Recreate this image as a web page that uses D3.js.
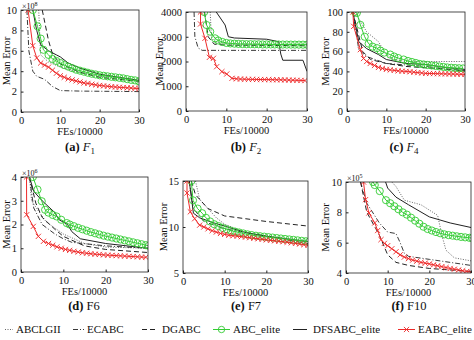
<!DOCTYPE html>
<html>
<head>
<meta charset="utf-8">
<script src="https://cdn.jsdelivr.net/npm/d3@7"></script>
<style>
  body { margin: 0; background: #fff; }
  svg, svg text { font-family: 'Liberation Serif', 'DejaVu Serif', serif !important; }
</style>
</head>
<body>
<script>
// methods, in legend order
const methods = ["ABCLGII", "ECABC", "DGABC", "ABC_elite", "DFSABC_elite", "EABC_elite"];

// F1 (x10^8)
const f1 = [
  [[4.5,10],[5,5.6],[7,4.9],[10,4.4],[15,3.85],[20,3.5],[25,3.3],[30,3.1]],
  [[1.5,10],[2,6],[3,4],[4,3.5],[6,3.2],[8,2.5],[10,2.1],[15,2.05],[30,2.0]],
  [[5.4,10],[7,7],[8,5.7],[10,4.7],[15,3.9],[20,3.4],[25,3.2],[30,3.0]],
  [[3,10],[4.2,8.4],[5,7.2],[5.7,6.1],[7,5.6],[8,5.2],[9,5.0],[10,4.8],[11,4.6],[12,4.45],[13,4.3],[14,4.15],[15,4.05],[16,3.95],[17,3.85],[18,3.75],[19,3.68],[20,3.6],[21,3.55],[22,3.5],[23,3.45],[24,3.4],[25,3.35],[26,3.3],[27,3.22],[28,3.15],[29,3.1],[30,3.0]],
  [[3,10],[4,8],[5,6.6],[7,6.0],[9,5.6],[10,5.4],[12,4.8],[15,4.3],[20,3.7],[25,3.4],[30,3.1]],
  [[1.8,10],[3,6.5],[4,5.3],[5,4.8],[6,4.6],[7,4.4],[8,4.1],[9,3.8],[10,3.55],[11,3.4],[12,3.25],[13,3.15],[14,3.05],[15,2.95],[16,2.85],[17,2.8],[18,2.72],[19,2.66],[20,2.6],[21,2.56],[22,2.52],[23,2.48],[24,2.45],[25,2.42],[26,2.4],[27,2.37],[28,2.35],[29,2.32],[30,2.3]]
];

// F2
const f2 = [
  [[6,4000],[6.3,3000],[7,2800],[10,2720],[20,2700],[30,2690]],
  [[2,4000],[2.2,3000],[3,2550],[4,2450],[30,2450]],
  [[4.6,4000],[5.5,3000],[7,2700],[10,2660],[30,2640]],
  [[4.5,4000],[5.1,3475],[6,3205],[7.2,2936],[8,2850],[9,2790],[10,2750],[11,2730],[12,2720],[13,2710],[14,2705],[15,2700],[16,2700],[17,2695],[18,2695],[19,2690],[20,2690],[21,2690],[22,2688],[23,2686],[24,2685],[25,2684],[26,2683],[27,2682],[28,2681],[29,2680],[30,2680]],
  [[7.5,4000],[9.7,3475],[10.5,3000],[12,2950],[20,2900],[23,2800],[23.5,2300],[24,2050],[29,2050],[30,1600]],
  [[3.6,4000],[3.6,3515],[4.7,2936],[5.8,2168],[6.8,2128],[7.6,1790],[8.9,1590],[10.1,1495],[11.4,1320],[12.5,1300],[13.5,1290],[14.5,1285],[15.5,1280],[16.5,1278],[17.5,1275],[18.5,1272],[19.5,1270],[20.5,1268],[21.5,1265],[22.5,1262],[23.5,1260],[24.5,1255],[25.5,1250],[26.5,1245],[27.5,1240],[28.5,1235],[29.5,1230]]
];

// F4
const f4 = [
  [[2,100],[5,80],[8,70],[10,57],[12,52],[15,50],[30,50]],
  [[1.5,100],[3,62],[5,55],[10,48],[20,45],[30,40]],
  [[1.5,100],[4,60],[6,52],[10,48],[15,45],[30,41]],
  [[2,100],[2.5,99],[3.4,87],[4.5,75],[5.5,68],[6.5,65],[7.6,63.5],[8.5,61],[9.5,59],[11,57],[12,55],[13,53.5],[14.4,52],[15.5,50.5],[16.5,49.5],[17.5,48.5],[18.5,47.5],[19.5,47],[20.5,46.5],[21.5,46],[22.5,45.5],[23.5,45],[24.5,44.5],[25.5,44],[26.5,43.7],[27.5,43.4],[28.5,43.2],[29.5,43]],
  [[1.5,100],[3,70],[5,63],[8,57],[10,52],[15,48],[20,47],[25,44],[30,42]],
  [[1.5,100],[1.7,85.5],[3.4,62],[4.2,53],[5,50],[5.9,48],[7,46],[8,44],[9,43],[10,42],[11,41.5],[12,41],[13,40.5],[14,40.2],[15,40],[16,39.6],[17,39.2],[18,38.8],[19,38.4],[20,38],[21,37.9],[22,37.8],[23,37.7],[24,37.6],[25,37.5],[26,37.4],[27,37.3],[28,37.2],[29,37.1],[30,37]]
];

// F6 (x10^6)
const f6 = [
  [[2,4],[2.5,3.0],[4,2.6],[6,2.1],[10,1.6],[15,1.2],[20,1.05],[30,1.0]],
  [[2,4],[3,2.7],[5,2.0],[8,1.6],[10,1.4],[12,1.25],[20,1.1],[30,1.0]],
  [[2,4],[3.5,2.9],[5,2.3],[8,1.8],[10,1.5],[15,1.1],[20,0.95],[30,0.82]],
  [[2.8,4],[3.9,3.47],[4.9,2.98],[5.7,2.62],[6.5,2.5],[7.5,2.4],[8.4,2.34],[9.5,2.2],[10.8,2.06],[11.5,2.0],[12.5,1.93],[13.5,1.86],[14.5,1.8],[15.5,1.74],[16.5,1.68],[17.5,1.63],[18.5,1.58],[19.5,1.53],[20.5,1.49],[21.5,1.45],[22.5,1.41],[23.5,1.37],[24.5,1.33],[25.5,1.29],[26.5,1.25],[27.5,1.21],[28.5,1.17],[29.5,1.13],[30.2,1.1]],
  [[2,4],[3,3.4],[5,3.0],[8,2.5],[9,2.2],[10,2.1],[11,2.0],[12,1.7],[14,1.4],[20,1.2],[30,1.0]],
  [[1.3,4],[1.34,2.41],[2.9,1.92],[4.1,1.5],[5.3,1.29],[6.5,1.2],[7.5,1.13],[8.5,1.06],[9.5,1.0],[10.5,0.95],[11.5,0.91],[12.5,0.87],[13.5,0.84],[14.5,0.81],[15.5,0.79],[16.5,0.77],[17.5,0.75],[18.5,0.74],[19.5,0.72],[20.5,0.71],[21.5,0.7],[22.5,0.69],[23.5,0.68],[24.5,0.67],[25.5,0.66],[26.5,0.65],[27.5,0.64],[28.5,0.63],[29.5,0.62]]
];

// F7
const f7 = [
  [[3,15],[4,13],[6,12],[8,11],[10,10.3],[15,9.4],[20,9.0],[30,8.5]],
  [[1.5,15],[2.5,12],[5,10.6],[10,9.8],[20,9.0],[30,8.2]],
  [[2,15],[3,13.5],[5,12.5],[6,12],[10,11.2],[15,10.9],[20,10.6],[30,10.1]],
  [[2,15],[2.4,12.9],[3.5,12],[4.6,11.5],[5.5,11],[6.5,10.6],[7.5,10.3],[8.5,10.1],[9.5,9.9],[10.5,9.75],[11.5,9.6],[12.5,9.5],[13.5,9.4],[14.5,9.3],[15.5,9.2],[16.5,9.12],[17.5,9.05],[18.5,9.0],[19.5,8.95],[20.5,8.9],[21.5,8.85],[22.5,8.8],[23.5,8.75],[24.5,8.7],[25.5,8.65],[26.5,8.6],[27.5,8.55],[28.5,8.5],[29.5,8.45],[30.3,8.4]],
  [[1.5,15],[2.5,11.5],[4,11.0],[7,10.5],[10,10.1],[15,9.4],[20,9.0],[30,8.4]],
  [[0.96,15],[0.96,13.7],[1.76,11.65],[2.8,10.9],[4,10.2],[5,10.0],[6,9.8],[7,9.6],[8,9.45],[9,9.3],[10,9.2],[11,9.1],[12,9.05],[13,9.0],[14,8.95],[15,8.9],[16,8.84],[17,8.78],[18,8.72],[19,8.66],[20,8.6],[21,8.55],[22,8.5],[23,8.45],[24,8.4],[25,8.35],[26,8.28],[27,8.22],[28,8.15],[29,8.08],[30,8.0]]
];

// F10 (x10^5)
const f10 = [
  [[11,10],[12,9.7],[14,8.8],[18,8.5],[22,7.8],[23,6.5],[24,5.5],[26,5.0],[30,4.8]],
  [[3.5,10],[5,8.6],[8,7.3],[10,6.7],[12,6.6],[13,6.0],[14,5.3],[15,5.1],[20,4.9],[30,4.5]],
  [[3.5,10],[5,8],[8,6.5],[10,5.2],[12,4.7],[15,4.5],[20,4.3],[30,4.1]],
  [[6.5,10],[6.9,9.8],[8.1,9.4],[9.6,8.8],[10.6,8.6],[11.6,8.4],[12.6,8.2],[13.6,8.0],[14.6,7.85],[15.6,7.65],[16.6,7.45],[17.6,7.25],[18.6,7.05],[19.6,6.9],[20.6,6.8],[21.6,6.7],[22.6,6.62],[23.6,6.55],[24.6,6.5],[25.6,6.46],[26.6,6.42],[27.6,6.38],[28.6,6.35],[29.6,6.32],[30.3,6.3]],
  [[9.5,10],[10,9.6],[12,9.0],[15,8.5],[20,7.7],[25,7.3],[30,7.0]],
  [[4.2,10],[4.7,8.84],[5.5,7.96],[6.9,7.3],[7.6,6.8],[8.4,6.2],[9.2,5.95],[10,5.8],[11,5.6],[12,5.4],[13,5.2],[14,5.05],[15,4.95],[16,4.85],[17,4.78],[18,4.7],[19,4.65],[20,4.6],[21,4.54],[22,4.48],[23,4.42],[24,4.36],[25,4.3],[26,4.25],[27,4.2],[28,4.15],[29,4.1],[30,4.05]]
];

const panels = [
  { data: f1, box: [21, 10, 139, 112], y: [0, 10], yTicks: [0, 2, 4, 6, 8, 10], exp: "8", tag: "(a)", fn: "F", sub: "1", italic: true, cx: 80, row: 0, tx: 15 },
  { data: f2, box: [186, 12, 307, 111], y: [0, 4000], yTicks: [0, 1000, 2000, 3000, 4000], exp: null, tag: "(b)", fn: "F", sub: "2", italic: true, cx: 246, row: 0, tx: 27 },
  { data: f4, box: [347, 12, 465, 111], y: [0, 100], yTicks: [0, 20, 40, 60, 80, 100], exp: null, tag: "(c)", fn: "F", sub: "4", italic: true, cx: 404, row: 0, tx: 22 },
  { data: f6, box: [21, 177, 148, 272], y: [0, 4], yTicks: [0, 1, 2, 3, 4], exp: "6", tag: "(d)", fn: "F6", sub: null, italic: false, cx: 84, row: 1, tx: 15 },
  { data: f7, box: [183, 181, 308, 273], y: [5, 15], yTicks: [5, 10, 15], exp: null, tag: "(e)", fn: "F7", sub: null, italic: false, cx: 246, row: 1, tx: 20 },
  { data: f10, box: [346, 182, 471, 273], y: [4, 10], yTicks: [4, 6, 8, 10], exp: "5", tag: "(f)", fn: "F10", sub: null, italic: false, cx: 409, row: 1, tx: 21 }
];

const xTicks = [0, 10, 20, 30];
const styles = [
  { stroke: "#555", width: 0.9, dash: "1,1.5" },
  { stroke: "#222", width: 0.9, dash: "5,2,1,2" },
  { stroke: "#222", width: 1, dash: "5,3" },
  { stroke: "#33cc33", width: 1, dash: null },
  { stroke: "#222", width: 1, dash: null },
  { stroke: "#ee2a2a", width: 1, dash: null }
];
const drawOrder = [0, 1, 2, 4, 3, 5];
const serif = "'Liberation Serif', 'DejaVu Serif', serif";

const W = 474, H = 340;
const svg = d3.select("body").append("svg").attr("width", W).attr("height", H)
  .attr("font-family", serif);

panels.forEach((p, pi) => {
  const [x0, y0, x1, y1] = p.box;
  const x = d3.scaleLinear().domain([0, 30]).range([x0, x1]);
  const y = d3.scaleLinear().domain(p.y).range([y1, y0]);
  const g = svg.append("g");

  const clipId = "clip" + pi;
  svg.append("clipPath").attr("id", clipId)
    .append("rect").attr("x", x0).attr("y", y0).attr("width", x1 - x0).attr("height", y1 - y0);

  const line = d3.line().x(d => x(d[0])).y(d => y(d[1]));
  const plot = g.append("g").attr("clip-path", `url(#${clipId})`);

  drawOrder.forEach(i => {
    const s = styles[i];
    plot.append("path").datum(p.data[i])
      .attr("d", line).attr("fill", "none")
      .attr("stroke", s.stroke).attr("stroke-width", s.width)
      .attr("stroke-dasharray", s.dash);
    if (i === 3) {
      plot.selectAll(null).data(p.data[i]).join("circle")
        .attr("cx", d => x(d[0])).attr("cy", d => y(d[1])).attr("r", 3.6)
        .attr("fill", "none").attr("stroke", s.stroke).attr("stroke-width", 0.9);
    }
    if (i === 5) {
      plot.selectAll(null).data(p.data[i]).join("path")
        .attr("d", d => { const cx = x(d[0]), cy = y(d[1]), r = 2.6; return `M${cx - r},${cy - r}L${cx + r},${cy + r}M${cx - r},${cy + r}L${cx + r},${cy - r}`; })
        .attr("stroke", s.stroke).attr("stroke-width", 0.9);
    }
  });

  // box and inner ticks
  g.append("rect").attr("x", x0).attr("y", y0).attr("width", x1 - x0).attr("height", y1 - y0)
    .attr("fill", "none").attr("stroke", "#222").attr("stroke-width", 0.8);

  const xa = g.append("g").attr("transform", `translate(0,${y1})`)
    .call(d3.axisBottom(x).tickValues(xTicks).tickSize(-2.5).tickPadding(5).tickFormat(d3.format("d")));
  const ya = g.append("g").attr("transform", `translate(${x0},0)`)
    .call(d3.axisLeft(y).tickValues(p.yTicks).tickSize(-2.5).tickPadding(4).tickFormat(d3.format("d")));
  [xa, ya].forEach(a => {
    a.attr("font-family", serif).attr("font-size", 10.5);
    a.select(".domain").remove();
    a.selectAll("line").attr("stroke", "#222");
    a.selectAll("text").attr("fill", "#111");
  });

  if (p.exp) {
    const t = g.append("text").attr("x", x0 + 1).attr("y", y0 - 1.5)
      .attr("font-size", 8).attr("fill", "#111");
    t.append("tspan").text("×10");
    t.append("tspan").attr("dy", -3).attr("font-size", 6).text(p.exp);
  }

  g.append("text").attr("x", (x0 + x1) / 2).attr("y", y1 + 23)
    .attr("text-anchor", "middle").attr("font-size", 10.5).attr("fill", "#111")
    .text("FEs/10000");

  g.append("text")
    .attr("transform", `translate(${x0 - p.tx},${(y0 + y1) / 2}) rotate(-90)`)
    .attr("text-anchor", "middle").attr("dy", "0.35em").attr("font-size", 10.5).attr("fill", "#111")
    .text("Mean Error");

  const capY = p.row === 0 ? 151 : 310;
  const cap = g.append("text").attr("x", p.cx).attr("y", capY)
    .attr("text-anchor", "middle").attr("font-size", 12.5).attr("fill", "#111");
  cap.append("tspan").attr("font-weight", "bold").text(p.tag + " ");
  cap.append("tspan").attr("font-style", p.italic ? "italic" : "normal").text(p.fn);
  if (p.sub) cap.append("tspan").attr("dy", 3).attr("font-size", 9).text(p.sub);
});

// legend
const legendX = [[5, 13, 16], [73, 84, 87], [142, 157, 162], [213, 230, 233], [293, 307, 313], [398, 415, 418]];
const legY = 333;
const leg = svg.append("g");
methods.forEach((m, i) => {
  const [a, b, tx] = legendX[i];
  const s = styles[i];
  leg.append("line").attr("x1", a).attr("x2", b).attr("y1", legY - 3.5).attr("y2", legY - 3.5)
    .attr("stroke", s.stroke).attr("stroke-width", s.width).attr("stroke-dasharray", s.dash);
  const mx = (a + b) / 2;
  if (i === 3) {
    leg.append("circle").attr("cx", mx).attr("cy", legY - 3.5).attr("r", 3.2)
      .attr("fill", "none").attr("stroke", s.stroke).attr("stroke-width", 0.9);
  }
  if (i === 5) {
    const r = 2.6, cy = legY - 3.5;
    leg.append("path").attr("d", `M${mx - r},${cy - r}L${mx + r},${cy + r}M${mx - r},${cy + r}L${mx + r},${cy - r}`)
      .attr("stroke", s.stroke).attr("stroke-width", 0.9);
  }
  leg.append("text").attr("x", tx).attr("y", legY).attr("font-size", 11).attr("fill", "#111").text(m);
});
</script>
</body>
</html>
